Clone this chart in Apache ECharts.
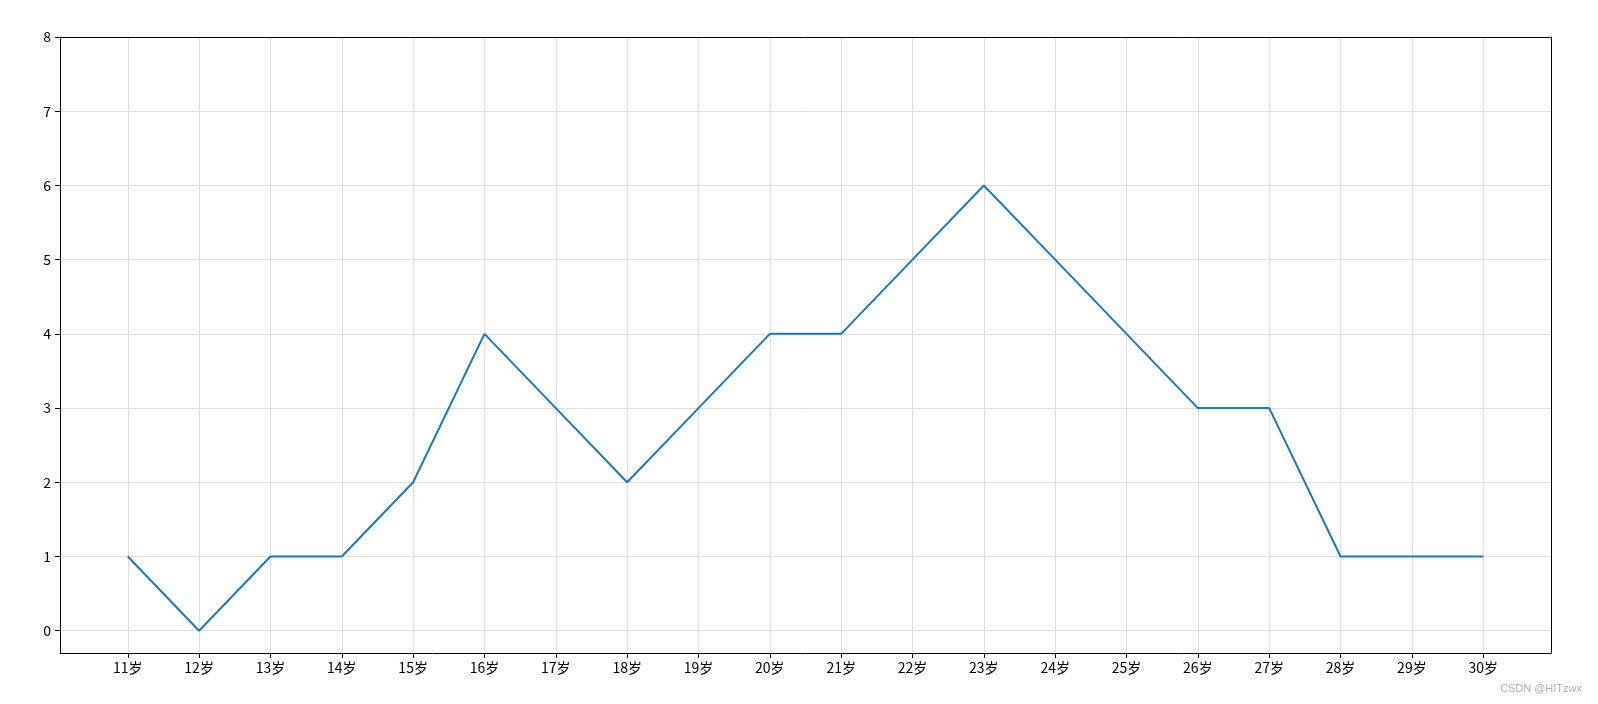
<!DOCTYPE html>
<html>
<head>
<meta charset="utf-8">
<script src="https://cdn.jsdelivr.net/npm/echarts@6/dist/echarts.min.js"></script>
<style>
  html, body { margin: 0; padding: 0; background: #fff; }
  #chart { width: 1598px; height: 704px; }
</style>
</head>
<body>
<div id="chart"></div>
<script>
// 年龄分布折线
const ages = ['11岁', '12岁', '13岁', '14岁', '15岁', '16岁', '17岁', '18岁', '19岁', '20岁',
  '21岁', '22岁', '23岁', '24岁', '25岁', '26岁', '27岁', '28岁', '29岁', '30岁'];
const counts = [1, 0, 1, 1, 2, 4, 3, 2, 3, 4, 4, 5, 6, 5, 4, 3, 3, 1, 1, 1];
const yTicks = [0, 1, 2, 3, 4, 5, 6, 7, 8];

const xTicks = ages.map((a, i) => i);
const points = counts.map((v, i) => [i, v]);

const font = '"Noto Sans CJK SC", "DejaVu Sans", sans-serif';
const chart = echarts.init(document.getElementById('chart'), null, { renderer: 'canvas' });

// 上、右两条边框线，只画轴线
const frame = {
  show: true,
  axisLine: { show: true, onZero: false, lineStyle: { color: '#000', width: 1 } },
  axisTick: { show: false },
  axisLabel: { show: false },
  splitLine: { show: false }
};

chart.setOption({
  animation: false,
  grid: { left: 60, top: 37, right: 47, bottom: 51 },
  xAxis: [{
    type: 'value',
    min: -0.95,
    max: 19.95,
    position: 'bottom',
    axisLine: { show: true, onZero: false, lineStyle: { color: '#000', width: 1 } },
    axisTick: { show: true, length: 5, customValues: xTicks, lineStyle: { color: '#000' } },
    axisLabel: {
      customValues: xTicks,
      color: '#000', fontSize: 14, fontFamily: font, margin: 8,
      formatter: v => ages[Math.round(v)]
    },
    splitLine: { show: true, lineStyle: { color: '#dddddd', width: 1 } }
  }, Object.assign({ type: 'value', min: -0.95, max: 19.95, position: 'top' }, frame)],
  yAxis: [{
    type: 'value',
    min: -0.3,
    max: 8,
    position: 'left',
    axisLine: { show: true, onZero: false, lineStyle: { color: '#000', width: 1 } },
    axisTick: { show: true, length: 5, customValues: yTicks, lineStyle: { color: '#000' } },
    axisLabel: {
      customValues: yTicks,
      color: '#000', fontSize: 14, fontFamily: font, margin: 9
    },
    splitLine: { show: true, lineStyle: { color: '#dddddd', width: 1 } }
  }, Object.assign({ type: 'value', min: -0.3, max: 8, position: 'right' }, frame)],
  series: [{
    type: 'line',
    data: points,
    showSymbol: false,
    lineStyle: { color: '#1f77b4', width: 2 },
    itemStyle: { color: '#1f77b4' }
  }],
  graphic: [{
    type: 'text',
    right: 16, top: 683,
    style: { text: 'CSDN @HITzwx', fill: '#b0b0b0', font: '11px Arial, "Liberation Sans", sans-serif' }
  }]
});
</script>
</body>
</html>
